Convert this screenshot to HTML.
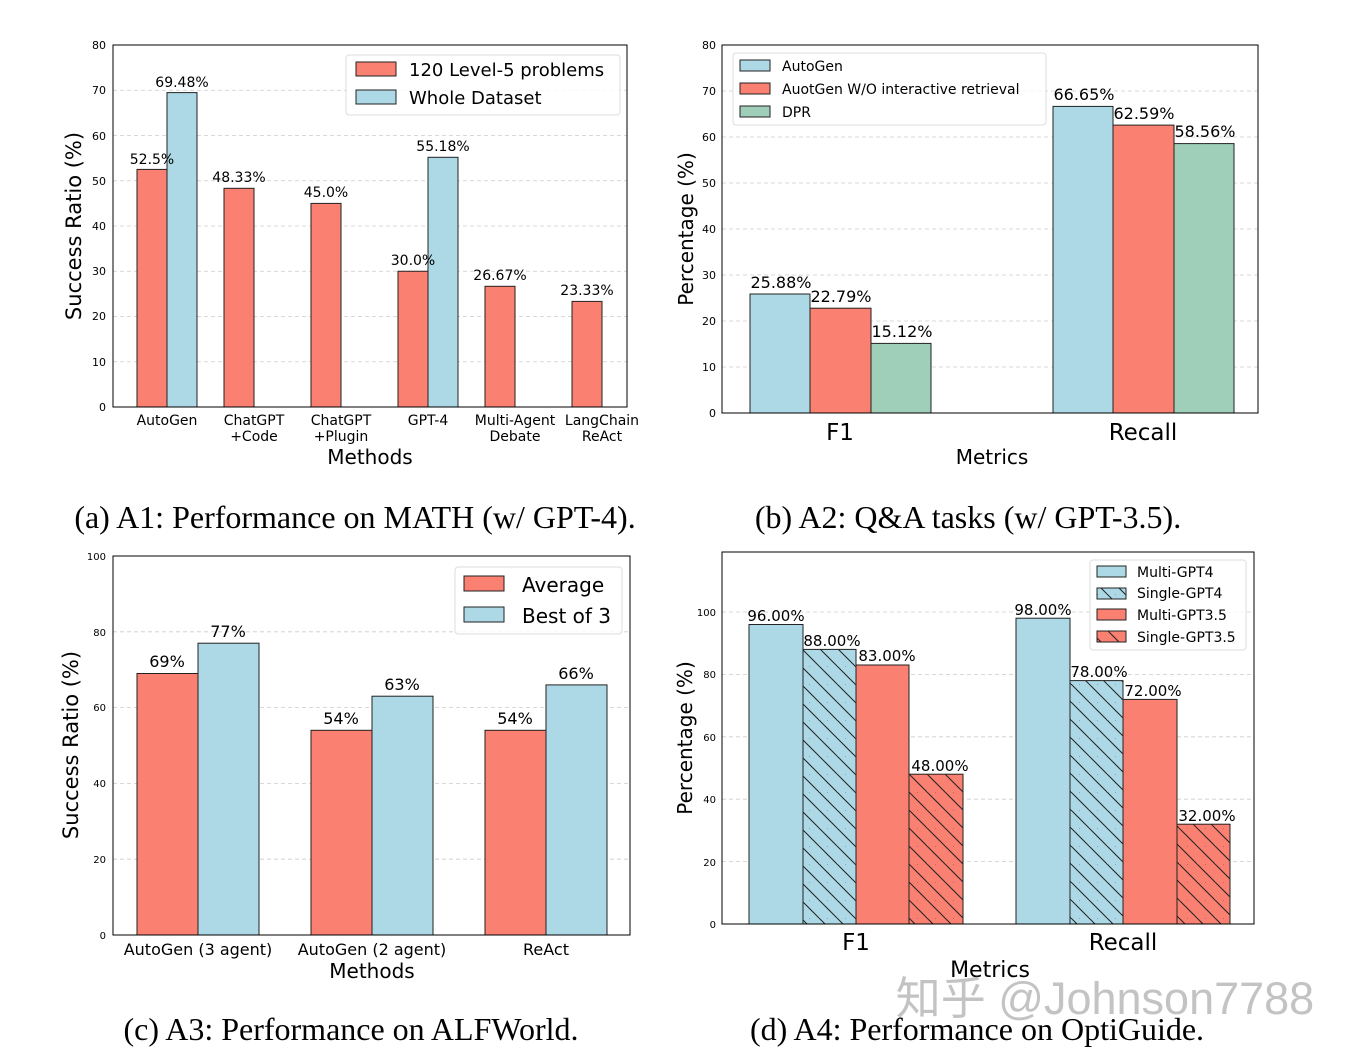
<!DOCTYPE html>
<html><head><meta charset="utf-8"><style>
html,body{margin:0;padding:0;background:#fff;}
svg{display:block;}
.t{font-family:"DejaVu Sans","Liberation Sans",sans-serif;fill:#000;}
.c{font-family:"Liberation Serif",serif;font-size:32px;fill:#000;}
.g{stroke:#ccc;stroke-width:0.8;stroke-dasharray:4,3;}
.b{stroke:#222;stroke-width:1;}
</style></head><body>
<svg width="1352" height="1056" viewBox="0 0 1352 1056" xmlns="http://www.w3.org/2000/svg">
<defs>
<pattern id="hb" patternUnits="userSpaceOnUse" width="18" height="18">
<rect width="18" height="18" fill="#add8e6"/><path d="M-9,0 L9,18 M0,-9 L27,18 M9,-9 L27,9" stroke="#222" stroke-width="1"/></pattern>
<pattern id="hr" patternUnits="userSpaceOnUse" width="18" height="18">
<rect width="18" height="18" fill="#fa8072"/><path d="M-9,0 L9,18 M0,-9 L27,18 M9,-9 L27,9" stroke="#222" stroke-width="1"/></pattern>
</defs>
<rect width="1352" height="1056" fill="#fff"/>

<!-- Panel a -->
<g class="t">
<g class="g"><line x1="113" x2="627" y1="361.75" y2="361.75"/><line x1="113" x2="627" y1="316.5" y2="316.5"/><line x1="113" x2="627" y1="271.25" y2="271.25"/><line x1="113" x2="627" y1="226" y2="226"/><line x1="113" x2="627" y1="180.75" y2="180.75"/><line x1="113" x2="627" y1="135.5" y2="135.5"/><line x1="113" x2="627" y1="90.25" y2="90.25"/></g>
<g class="b" fill="#fa8072">
<rect x="137" y="169.4" width="30" height="237.6"/><rect x="224" y="188.3" width="30" height="218.7"/><rect x="311" y="203.4" width="30" height="203.6"/><rect x="398" y="271.25" width="30" height="135.75"/><rect x="485" y="286.3" width="30" height="120.7"/><rect x="572" y="301.4" width="30" height="105.6"/></g>
<g class="b" fill="#add8e6"><rect x="167" y="92.6" width="30" height="314.4"/><rect x="428" y="157.3" width="30" height="249.7"/></g>
<rect x="113" y="45" width="514" height="362" fill="none" stroke="#000" stroke-width="1"/>
<g font-size="11" text-anchor="end"><text x="106" y="411">0</text><text x="106" y="366">10</text><text x="106" y="320">20</text><text x="106" y="275">30</text><text x="106" y="230">40</text><text x="106" y="185">50</text><text x="106" y="140">60</text><text x="106" y="94">70</text><text x="106" y="49">80</text></g>
<g font-size="14" text-anchor="middle"><text x="152" y="164">52.5%</text><text x="182" y="87">69.48%</text><text x="239" y="182">48.33%</text><text x="326" y="197">45.0%</text><text x="413" y="265">30.0%</text><text x="443" y="151">55.18%</text><text x="500" y="280">26.67%</text><text x="587" y="295">23.33%</text>
<text x="167" y="425">AutoGen</text><text x="254" y="425">ChatGPT</text><text x="254" y="441">+Code</text><text x="341" y="425">ChatGPT</text><text x="341" y="441">+Plugin</text><text x="428" y="425">GPT-4</text><text x="515" y="425">Multi-Agent</text><text x="515" y="441">Debate</text><text x="602" y="425">LangChain</text><text x="602" y="441">ReAct</text></g>
<text x="370" y="464" font-size="20" text-anchor="middle">Methods</text>
<text transform="translate(81,226) rotate(-90)" font-size="21" text-anchor="middle">Success Ratio (%)</text>
<rect x="346" y="55" width="274" height="60" fill="#fff" fill-opacity="0.8" stroke="#ddd" rx="3"/>
<rect x="356" y="62" width="40" height="14" fill="#fa8072" class="b"/><text x="409" y="76" font-size="18">120 Level-5 problems</text>
<rect x="356" y="90" width="40" height="14" fill="#add8e6" class="b"/><text x="409" y="104" font-size="18">Whole Dataset</text>
</g>

<!-- Panel b -->
<g class="t">
<g class="g"><line x1="722" x2="1258" y1="367" y2="367"/><line x1="722" x2="1258" y1="321" y2="321"/><line x1="722" x2="1258" y1="275" y2="275"/><line x1="722" x2="1258" y1="229" y2="229"/><line x1="722" x2="1258" y1="183" y2="183"/><line x1="722" x2="1258" y1="137" y2="137"/><line x1="722" x2="1258" y1="91" y2="91"/></g>
<g class="b"><rect x="750" y="294" width="60" height="119" fill="#add8e6"/><rect x="810" y="308.2" width="61" height="104.8" fill="#fa8072"/><rect x="871" y="343.4" width="60" height="69.6" fill="#9fcfb9"/>
<rect x="1053" y="106.4" width="60" height="306.6" fill="#add8e6"/><rect x="1113" y="125.1" width="61" height="287.9" fill="#fa8072"/><rect x="1174" y="143.6" width="60" height="269.4" fill="#9fcfb9"/></g>
<rect x="722" y="45" width="536" height="368" fill="none" stroke="#000"/>
<g font-size="11" text-anchor="end"><text x="716" y="417">0</text><text x="716" y="371">10</text><text x="716" y="325">20</text><text x="716" y="279">30</text><text x="716" y="233">40</text><text x="716" y="187">50</text><text x="716" y="141">60</text><text x="716" y="95">70</text><text x="716" y="49">80</text></g>
<g font-size="16" text-anchor="middle"><text x="781" y="288">25.88%</text><text x="841" y="302">22.79%</text><text x="902" y="337">15.12%</text><text x="1084" y="100">66.65%</text><text x="1144" y="119">62.59%</text><text x="1205" y="137">58.56%</text></g>
<g font-size="23" text-anchor="middle"><text x="840" y="440">F1</text><text x="1143" y="440">Recall</text></g>
<text x="992" y="464" font-size="20" text-anchor="middle">Metrics</text>
<text transform="translate(693,229) rotate(-90)" font-size="20" text-anchor="middle">Percentage (%)</text>
<rect x="733" y="53" width="313" height="72" fill="#fff" fill-opacity="0.8" stroke="#ddd" rx="3"/>
<rect x="740" y="60" width="30" height="11" fill="#add8e6" class="b"/><text x="782" y="71" font-size="14">AutoGen</text>
<rect x="740" y="83" width="30" height="11" fill="#fa8072" class="b"/><text x="782" y="94" font-size="14">AuotGen W/O interactive retrieval</text>
<rect x="740" y="106" width="30" height="11" fill="#9fcfb9" class="b"/><text x="782" y="117" font-size="14">DPR</text>
</g>

<!-- Panel c -->
<g class="t">
<g class="g"><line x1="113" x2="630" y1="859.2" y2="859.2"/><line x1="113" x2="630" y1="783.4" y2="783.4"/><line x1="113" x2="630" y1="707.6" y2="707.6"/><line x1="113" x2="630" y1="631.8" y2="631.8"/></g>
<g class="b"><rect x="137" y="673.5" width="61" height="261.5" fill="#fa8072"/><rect x="198" y="643.2" width="61" height="291.8" fill="#add8e6"/>
<rect x="311" y="730.3" width="61" height="204.7" fill="#fa8072"/><rect x="372" y="696.2" width="61" height="238.8" fill="#add8e6"/>
<rect x="485" y="730.3" width="61" height="204.7" fill="#fa8072"/><rect x="546" y="684.9" width="61" height="250.1" fill="#add8e6"/></g>
<rect x="113" y="556" width="517" height="379" fill="none" stroke="#000"/>
<g font-size="10" text-anchor="end"><text x="106" y="939">0</text><text x="106" y="863">20</text><text x="106" y="787">40</text><text x="106" y="711">60</text><text x="106" y="636">80</text><text x="106" y="560">100</text></g>
<g font-size="16" text-anchor="middle"><text x="167" y="667">69%</text><text x="228" y="637">77%</text><text x="341" y="724">54%</text><text x="402" y="690">63%</text><text x="515" y="724">54%</text><text x="576" y="679">66%</text>
<text x="198" y="955">AutoGen (3 agent)</text><text x="372" y="955">AutoGen (2 agent)</text><text x="546" y="955">ReAct</text></g>
<text x="372" y="978" font-size="20" text-anchor="middle">Methods</text>
<text transform="translate(78,745) rotate(-90)" font-size="21" text-anchor="middle">Success Ratio (%)</text>
<rect x="455" y="567" width="167" height="67" fill="#fff" fill-opacity="0.8" stroke="#ddd" rx="3"/>
<rect x="464" y="576" width="40" height="15" fill="#fa8072" class="b"/><text x="522" y="592" font-size="20">Average</text>
<rect x="464" y="607" width="40" height="15" fill="#add8e6" class="b"/><text x="522" y="623" font-size="20">Best of 3</text>
</g>

<!-- Panel d -->
<g class="t">
<g class="g"><line x1="722" x2="1254" y1="861.6" y2="861.6"/><line x1="722" x2="1254" y1="799.2" y2="799.2"/><line x1="722" x2="1254" y1="736.8" y2="736.8"/><line x1="722" x2="1254" y1="674.4" y2="674.4"/><line x1="722" x2="1254" y1="612" y2="612"/></g>
<g class="b"><rect x="749" y="624.5" width="54" height="299.5" fill="#add8e6"/><rect x="803" y="649.4" width="53" height="274.6" fill="url(#hb)"/><rect x="856" y="665" width="53" height="259" fill="#fa8072"/><rect x="909" y="774.2" width="54" height="149.8" fill="url(#hr)"/>
<rect x="1016" y="618.2" width="54" height="305.8" fill="#add8e6"/><rect x="1070" y="680.6" width="53" height="243.4" fill="url(#hb)"/><rect x="1123" y="699.4" width="54" height="224.6" fill="#fa8072"/><rect x="1177" y="824.2" width="53" height="99.8" fill="url(#hr)"/></g>
<rect x="722" y="552" width="532" height="372" fill="none" stroke="#000"/>
<g font-size="10" text-anchor="end"><text x="716" y="928">0</text><text x="716" y="866">20</text><text x="716" y="803">40</text><text x="716" y="741">60</text><text x="716" y="678">80</text><text x="716" y="616">100</text></g>
<g font-size="15" text-anchor="middle"><text x="776" y="621">96.00%</text><text x="832" y="646">88.00%</text><text x="887" y="661">83.00%</text><text x="940" y="771">48.00%</text><text x="1043" y="615">98.00%</text><text x="1099" y="677">78.00%</text><text x="1153" y="696">72.00%</text><text x="1207" y="821">32.00%</text></g>
<g font-size="23" text-anchor="middle"><text x="856" y="950">F1</text><text x="1123" y="950">Recall</text></g>
<text x="990" y="977" font-size="22" text-anchor="middle">Metrics</text>
<text transform="translate(692,738) rotate(-90)" font-size="20" text-anchor="middle">Percentage (%)</text>
<rect x="1090" y="560" width="156" height="90" fill="#fff" fill-opacity="0.8" stroke="#ddd" rx="3"/>
<rect x="1097" y="566" width="29" height="11" fill="#add8e6" class="b"/><text x="1137" y="577" font-size="14">Multi-GPT4</text>
<rect x="1097" y="588" width="29" height="11" fill="url(#hb)" class="b"/><text x="1137" y="598" font-size="14">Single-GPT4</text>
<rect x="1097" y="609" width="29" height="11" fill="#fa8072" class="b"/><text x="1137" y="620" font-size="14">Multi-GPT3.5</text>
<rect x="1097" y="631" width="29" height="11" fill="url(#hr)" class="b"/><text x="1137" y="642" font-size="14">Single-GPT3.5</text>
</g>

<!-- captions -->
<text class="c" x="355" y="528" text-anchor="middle">(a) A1: Performance on MATH (w/ GPT-4).</text>
<text class="c" x="968" y="528" text-anchor="middle">(b) A2: Q&amp;A tasks (w/ GPT-3.5).</text>
<text class="c" x="351" y="1040" text-anchor="middle">(c) A3: Performance on ALFWorld.</text>
<text class="c" x="977" y="1040" text-anchor="middle">(d) A4: Performance on OptiGuide.</text>
<text x="1105" y="1014" text-anchor="middle" font-family="'Liberation Sans','Noto Sans CJK SC',sans-serif" font-size="45" fill="#aaa" fill-opacity="0.7">知乎 @Johnson7788</text>
</svg>
</body></html>
